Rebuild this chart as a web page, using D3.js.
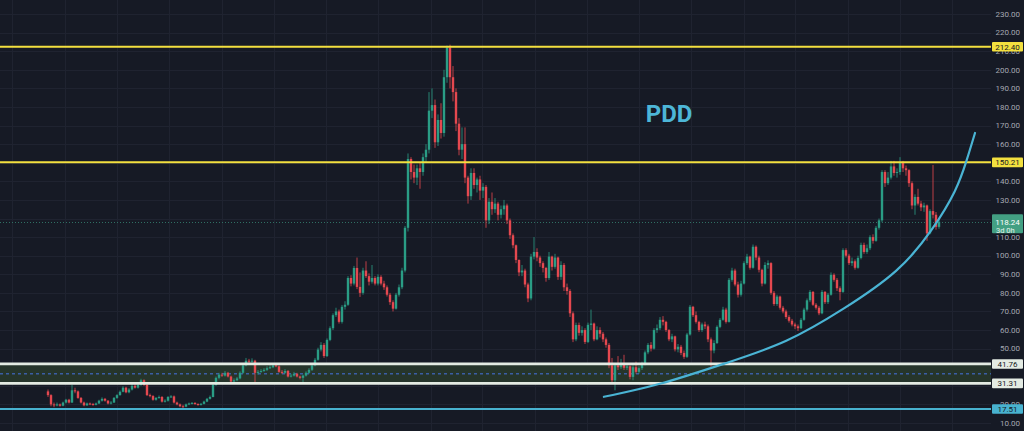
<!DOCTYPE html>
<html>
<head>
<meta charset="utf-8">
<script src="https://cdn.jsdelivr.net/npm/d3@7"></script>
<style>
  html, body { margin: 0; padding: 0; background: #161a25; }
  svg { display: block; }
</style>
</head>
<body>
<div id="chart"></div>
<script>
// weekly candles, first week of trading
const firstWeek = new Date(2018, 6, 23);
const firstOpen = 27;

// weekly closes (open = previous close)
const closes = [
  25, 20, 19.5, 20, 19.3, 21, 22.5, 21, 27.6, 27, 23.5, 21, 19.5, 20.5, 20.2, 19.8, 20.5, 22, 23, 22,
  20.5, 21, 23.5, 25, 26.8, 29, 26.5, 28, 30, 29, 30.5, 33, 30.5, 25, 24.5, 22.5, 23.5, 24, 21.5, 22,
  24, 24.3, 21, 20, 19, 18.8, 20, 20.5, 20.8, 20.2, 19.8, 20.3, 21.5, 23, 24, 30.5, 34.3, 36, 35.5, 37,
  35, 32.3, 33, 34, 37, 41, 43.5, 43, 43.5, 37, 37.5, 38, 38.6, 39.5, 40, 41, 40.5, 37.5, 37, 38,
  35, 35.5, 36.5, 35, 34.3, 35.5, 37, 38.6, 41, 44, 49.5, 52, 46, 54.7, 61, 68, 70, 64.4, 72.5, 73.6,
  88, 85, 93.4, 83.2, 80, 92, 89, 86, 88, 85, 88.6, 85, 83, 79, 75, 71.5, 79, 83, 92, 115,
  152, 145, 142, 147, 145, 153, 157, 178, 181, 161, 173, 166, 196, 212, 196, 188, 171, 157, 160, 142,
  132, 144.5, 138, 141, 135, 137, 119, 129, 125, 128, 122, 125, 127, 119, 111, 105.6, 97.7, 91, 92, 84.5,
  77, 99.5, 102, 99, 96, 93.4, 88, 99.5, 94, 99, 88.6, 95, 83, 81, 69, 55, 62.7, 58.5, 60, 53.6,
  62.8, 63.5, 55, 60, 58, 55, 52, 41, 33, 41, 40, 42, 39.7, 40.5, 34.8, 40, 37.5, 39.5, 42, 48,
  52, 50, 60, 61, 65.5, 64.4, 60, 55, 56.6, 49.6, 51, 47.7, 45.6, 57.6, 72.5, 68, 64.4, 60, 63, 62,
  55, 49, 53, 61.7, 65.5, 71, 64.4, 87, 92, 84.5, 79, 85, 96, 99.5, 93.5, 104.8, 99, 92.4, 85, 95,
  96, 80, 74, 78, 72, 70, 67, 65, 63, 62, 61, 65.5, 71, 76, 80.5, 73.6, 72, 69, 80.5, 75,
  79, 89.7, 87, 82.5, 80.5, 103, 100, 96, 97, 93.5, 98.8, 105.8, 102, 104, 110, 108, 115, 119, 145, 139,
  142, 148, 144.5, 145, 150, 147, 146, 139, 127, 131.6, 128, 126, 127, 112, 124, 122, 115.5, 118.24
];

const highs = [
  28, 25.5, 21, 21, 20.5, 21.5, 23, 23, 30.5, 29, 27.5, 24, 21.5, 21, 21, 20.8, 21, 22.5, 23.8, 23.5,
  22.3, 21.8, 24, 25.5, 27.5, 29.8, 29.5, 28.8, 31, 30.8, 31, 33.8, 33.5, 31, 25.8, 25, 24, 24.8, 24.5, 22.8,
  24.5, 25, 24.8, 21.5, 20.5, 19.8, 20.5, 21, 21.3, 21.2, 20.6, 20.8, 22, 23.5, 24.8, 31.5, 35, 37, 37, 38,
  37.5, 35.5, 34, 34.8, 37.8, 42, 45, 44.5, 44.8, 44, 38.5, 39, 39.5, 40.5, 41, 42, 42, 41, 38.5, 39,
  38.5, 36.5, 37.5, 37, 35.5, 36, 37.8, 39.5, 42, 45, 50.5, 53.5, 53, 55.5, 62, 69, 72, 71, 73.5, 75.5,
  89, 89.5, 94.5, 99, 91, 93.5, 97, 90.5, 95, 89, 90, 89.5, 86.5, 84, 80, 76, 80, 84.5, 93.5, 116,
  155, 153, 149, 149, 150, 155, 160, 188, 190, 184, 176, 182, 200, 213, 213.5, 202, 190, 174, 169, 169,
  143, 147, 147, 142, 143, 139, 138, 131, 134, 131, 129, 127, 130, 128, 120, 112, 106, 98, 95, 93,
  85.5, 101, 110, 104, 100, 97, 94, 102, 100, 101, 99.5, 97, 96, 85, 82, 70, 64, 64, 62, 61,
  64, 71, 64, 62, 61.5, 59, 56, 53, 45, 42, 46, 44.5, 46.7, 42, 41, 41, 43, 40.5, 43, 49,
  53, 53.5, 61, 63, 67, 67.5, 65, 60.5, 58, 57, 52.5, 52, 49, 58.5, 73.5, 73, 70, 65, 64, 64.5,
  63, 56, 54.5, 62.5, 66.5, 72.5, 72, 88, 93.5, 93, 86, 86.5, 97, 101, 100, 106, 105.5, 100, 93, 96.5,
  97.5, 96.5, 81, 79, 78.5, 73, 71, 68, 66, 64, 63, 66.5, 72, 77, 81.5, 81, 74.5, 73, 81.5, 81,
  80, 91, 90.5, 88, 83.5, 104, 104, 101, 99, 98, 100, 107, 107, 106, 111, 111.5, 116, 120, 146, 146,
  145, 151, 151, 147, 153, 151, 148.5, 146.5, 140, 133, 136, 129.5, 128.5, 127.5, 125, 148.8, 123.5, 119.5
];

const lows = [
  24, 19, 18.5, 19, 18.8, 19, 20.5, 20.5, 20.8, 26, 23, 20.5, 19, 19.2, 19.6, 19.3, 19.5, 20.2, 21.5, 21.5,
  20, 20, 20.8, 23, 24.7, 26.5, 26, 26, 27.5, 28.5, 28.5, 30, 30, 24.5, 23.8, 22, 22, 23, 21, 21,
  21.5, 23.5, 20.5, 19.5, 18.5, 18.2, 18.5, 19.6, 20, 19.8, 19.3, 19.4, 20, 21.2, 22.6, 23.8, 30, 33.5, 34.8, 35,
  34.5, 31.8, 31.5, 32.5, 33.5, 36.5, 40.5, 42, 42.5, 31.5, 36, 37, 37.5, 38, 39, 39.5, 40, 37, 36.3, 36.5,
  34.5, 34.5, 35, 34.5, 33.5, 32, 35, 36.5, 38, 40.5, 43.5, 48.5, 45, 45.5, 54, 60, 67, 63.5, 63.5, 71,
  73, 83.5, 84, 82, 77.8, 79, 88, 84, 85, 84, 84, 84, 81.6, 78, 73.5, 70, 71, 78, 82, 91,
  113, 141, 139, 138, 136, 143, 150, 155, 174, 158, 159, 163, 164, 193, 190, 183, 167, 154, 152, 139,
  128, 130, 136, 134, 130, 131, 115, 117, 122, 123, 119, 120, 122, 117, 109, 104, 96, 89, 89, 83,
  75, 76, 98, 97, 94, 91, 86, 87, 92, 93, 87, 87, 81, 79, 67, 53.5, 54, 57, 57, 52.5,
  53, 60, 54, 54.5, 56, 53.5, 50.5, 39.5, 31, 27.6, 38.5, 39, 38.5, 38.5, 33.5, 33, 36.5, 36.5, 38.5, 41,
  47, 48.5, 49.5, 58.5, 60, 62.5, 59, 54, 53.5, 48.5, 48, 46.5, 44.5, 45, 57, 67, 63.5, 59, 59, 60.5,
  53.5, 40, 47.5, 52.5, 61, 65, 63.5, 64, 86, 83.5, 77.5, 78, 84.5, 95, 92.5, 93, 97.5, 91, 83.5, 84.5,
  93, 79, 73, 73, 71, 69, 66, 64, 62, 60.5, 59.5, 60.5, 65, 70, 75, 73, 71, 68, 68.5, 74,
  74, 78.5, 86, 81, 76, 80, 99, 95, 94.5, 92.5, 93, 98, 101, 101, 103, 106.5, 107.5, 114, 118, 137,
  138, 141, 143, 142, 143.5, 145, 143, 137, 125, 122, 127, 124, 123.6, 108, 111.5, 120, 114, 114.5
];

// price axis ticks
const priceTicks = d3.range(10, 231, 10);
// ticks hidden behind the price labels on the axis
const hiddenTicks = [120, 40, 30];

// horizontal levels drawn on the chart
const levelValues = [212.40, 150.21, 41.76, 31.31, 17.51];
const levelNames = ["res2", "res1", "zoneTop", "zoneBottom", "floor"];
const zoneMid = 36.5;
const lastPrice = 118.24;
const lastLabel = ["118.24", "3d 0h"];

// hand-drawn support curve: weeks from first candle, price
const curveWeeks = [185.3, 203, 226.3, 246.3, 265, 284, 295, 303, 306.3, 309];
const curvePrices = [24.1, 30, 42.4, 53, 70.9, 91.5, 114, 135.4, 151.5, 166];

const title = "PDD";

// ---------------- drawing ----------------
const width = 1024, height = 431;
const plotRight = 991;
const colors = {
  bg: "#161a25",
  grid: "#1f2330",
  up: "#2a9d85",
  down: "#e5484f",
  axisText: "#a5a8b1",
  res2: "#f3e03f",
  res1: "#f3e03f",
  zoneTop: "#e4ebe3",
  zoneBottom: "#e4ebe3",
  floor: "#48b2cf",
  zone: "#26352b",
  zoneMid: "#3a5ea6",
  last: "#43a083",
  curve: "#4ab4d4",
  title: "#4db6d7"
};

const svg = d3.select("#chart").append("svg")
  .attr("width", width)
  .attr("height", height)
  .style("font-family", "Roboto, 'Liberation Sans', sans-serif");

svg.append("rect").attr("width", width).attr("height", height).attr("fill", colors.bg);

const dates = closes.map((_, i) => d3.timeMonday.offset(firstWeek, i));
const candles = closes.map((c, i) => ({
  date: dates[i],
  open: i ? closes[i - 1] : firstOpen,
  close: c,
  high: highs[i],
  low: lows[i]
}));

const x = d3.scaleTime()
  .domain([dates[0], dates[dates.length - 1]])
  .range([48, 939]);

const y = d3.scaleLinear()
  .domain([10, 230])
  .range([423, 14]);

const weekMs = 7 * 24 * 3600 * 1000;
const weekToDate = w => new Date(firstWeek.getTime() + w * weekMs);

// grid
const grid = svg.append("g");
grid.selectAll(".hg")
  .data(priceTicks)
  .enter().append("line")
  .attr("x1", 0).attr("x2", plotRight)
  .attr("y1", d => Math.round(y(d)) + 0.5)
  .attr("y2", d => Math.round(y(d)) + 0.5)
  .attr("stroke", colors.grid);

const gridDates = d3.timeMonth.every(4).range(x.invert(0), x.invert(plotRight));
grid.selectAll(".vg")
  .data(gridDates)
  .enter().append("line")
  .attr("x1", d => Math.round(x(d)) + 0.5)
  .attr("x2", d => Math.round(x(d)) + 0.5)
  .attr("y1", 0).attr("y2", height)
  .attr("stroke", colors.grid);

// support zone
svg.append("rect")
  .attr("x", 0)
  .attr("y", y(levelValues[2]))
  .attr("width", plotRight)
  .attr("height", y(levelValues[3]) - y(levelValues[2]))
  .attr("fill", colors.zone);

svg.append("line")
  .attr("x1", 0).attr("x2", plotRight)
  .attr("y1", y(zoneMid)).attr("y2", y(zoneMid))
  .attr("stroke", colors.zoneMid)
  .attr("stroke-width", 1.3)
  .attr("stroke-dasharray", "3,3");

// last price dotted line
svg.append("line")
  .attr("x1", 0).attr("x2", plotRight)
  .attr("y1", Math.round(y(lastPrice)) + 0.5).attr("y2", Math.round(y(lastPrice)) + 0.5)
  .attr("stroke", "#2f6f63")
  .attr("stroke-dasharray", "1,2");

// candles
const candleG = svg.append("g");
const cg = candleG.selectAll("g")
  .data(candles)
  .enter().append("g");

cg.append("rect")
  .attr("x", d => x(d.date) - 0.5)
  .attr("width", 1)
  .attr("y", d => y(d.high))
  .attr("height", d => Math.max(0.5, y(d.low) - y(d.high)))
  .attr("fill", d => d.close >= d.open ? colors.up : colors.down)
  .attr("opacity", 0.8);

cg.append("rect")
  .attr("x", d => x(d.date) - 1.2)
  .attr("width", 2.4)
  .attr("y", d => y(Math.max(d.open, d.close)))
  .attr("height", d => Math.max(1, Math.abs(y(d.open) - y(d.close))))
  .attr("fill", d => d.close >= d.open ? colors.up : colors.down);

// level lines
const levelWidth = { res2: 2, res1: 2, zoneTop: 2.8, zoneBottom: 2.8, floor: 2 };
svg.append("g").selectAll("line")
  .data(levelValues)
  .enter().append("line")
  .attr("x1", 0).attr("x2", plotRight)
  .attr("y1", d => y(d)).attr("y2", d => y(d))
  .attr("stroke", (d, i) => colors[levelNames[i]])
  .attr("stroke-width", (d, i) => levelWidth[levelNames[i]]);

// curve
const curveData = curveWeeks.map((w, i) => ({ date: weekToDate(w), price: curvePrices[i] }));
svg.append("path")
  .datum(curveData)
  .attr("d", d3.line()
    .x(d => x(d.date))
    .y(d => y(d.price))
    .curve(d3.curveBasis))
  .attr("fill", "none")
  .attr("stroke", colors.curve)
  .attr("stroke-width", 2.2)
  .attr("stroke-linecap", "round");

// title
svg.append("text")
  .attr("x", 669)
  .attr("y", 122)
  .attr("text-anchor", "middle")
  .attr("fill", colors.title)
  .attr("font-size", 24)
  .attr("font-weight", 700)
  .text(title);

// price axis
const axisG = svg.append("g");
axisG.selectAll("text")
  .data(priceTicks.filter(d => !hiddenTicks.includes(d)))
  .enter().append("text")
  .attr("x", 1020)
  .attr("y", d => y(d))
  .attr("dy", "0.35em")
  .attr("text-anchor", "end")
  .attr("fill", colors.axisText)
  .attr("font-size", 8)
  .text(d => d.toFixed(2));

// level labels
const labelG = svg.append("g");
levelValues.forEach((v, i) => {
  const c = colors[levelNames[i]];
  labelG.append("rect")
    .attr("x", 992).attr("y", y(v) - 4.8)
    .attr("width", 31).attr("height", 9.6)
    .attr("rx", 1)
    .attr("fill", c);
  labelG.append("text")
    .attr("x", 1007.5).attr("y", y(v))
    .attr("dy", "0.35em")
    .attr("text-anchor", "middle")
    .attr("fill", "#131722")
    .attr("font-size", 8)
    .text(v.toFixed(2));
});

// last price label
const ly = y(lastPrice);
labelG.append("rect")
  .attr("x", 992).attr("y", ly - 7.5)
  .attr("width", 31).attr("height", 19)
  .attr("rx", 1)
  .attr("fill", colors.last);
labelG.append("text")
  .attr("x", 1007.5).attr("y", ly)
  .attr("dy", "0.35em")
  .attr("text-anchor", "middle")
  .attr("fill", "#ffffff")
  .attr("font-size", 8)
  .text(lastLabel[0]);
labelG.append("text")
  .attr("x", 996).attr("y", ly + 8.5)
  .attr("dy", "0.35em")
  .attr("fill", "#e3f2ec")
  .attr("font-size", 7.5)
  .text(lastLabel[1]);
</script>
</body>
</html>
